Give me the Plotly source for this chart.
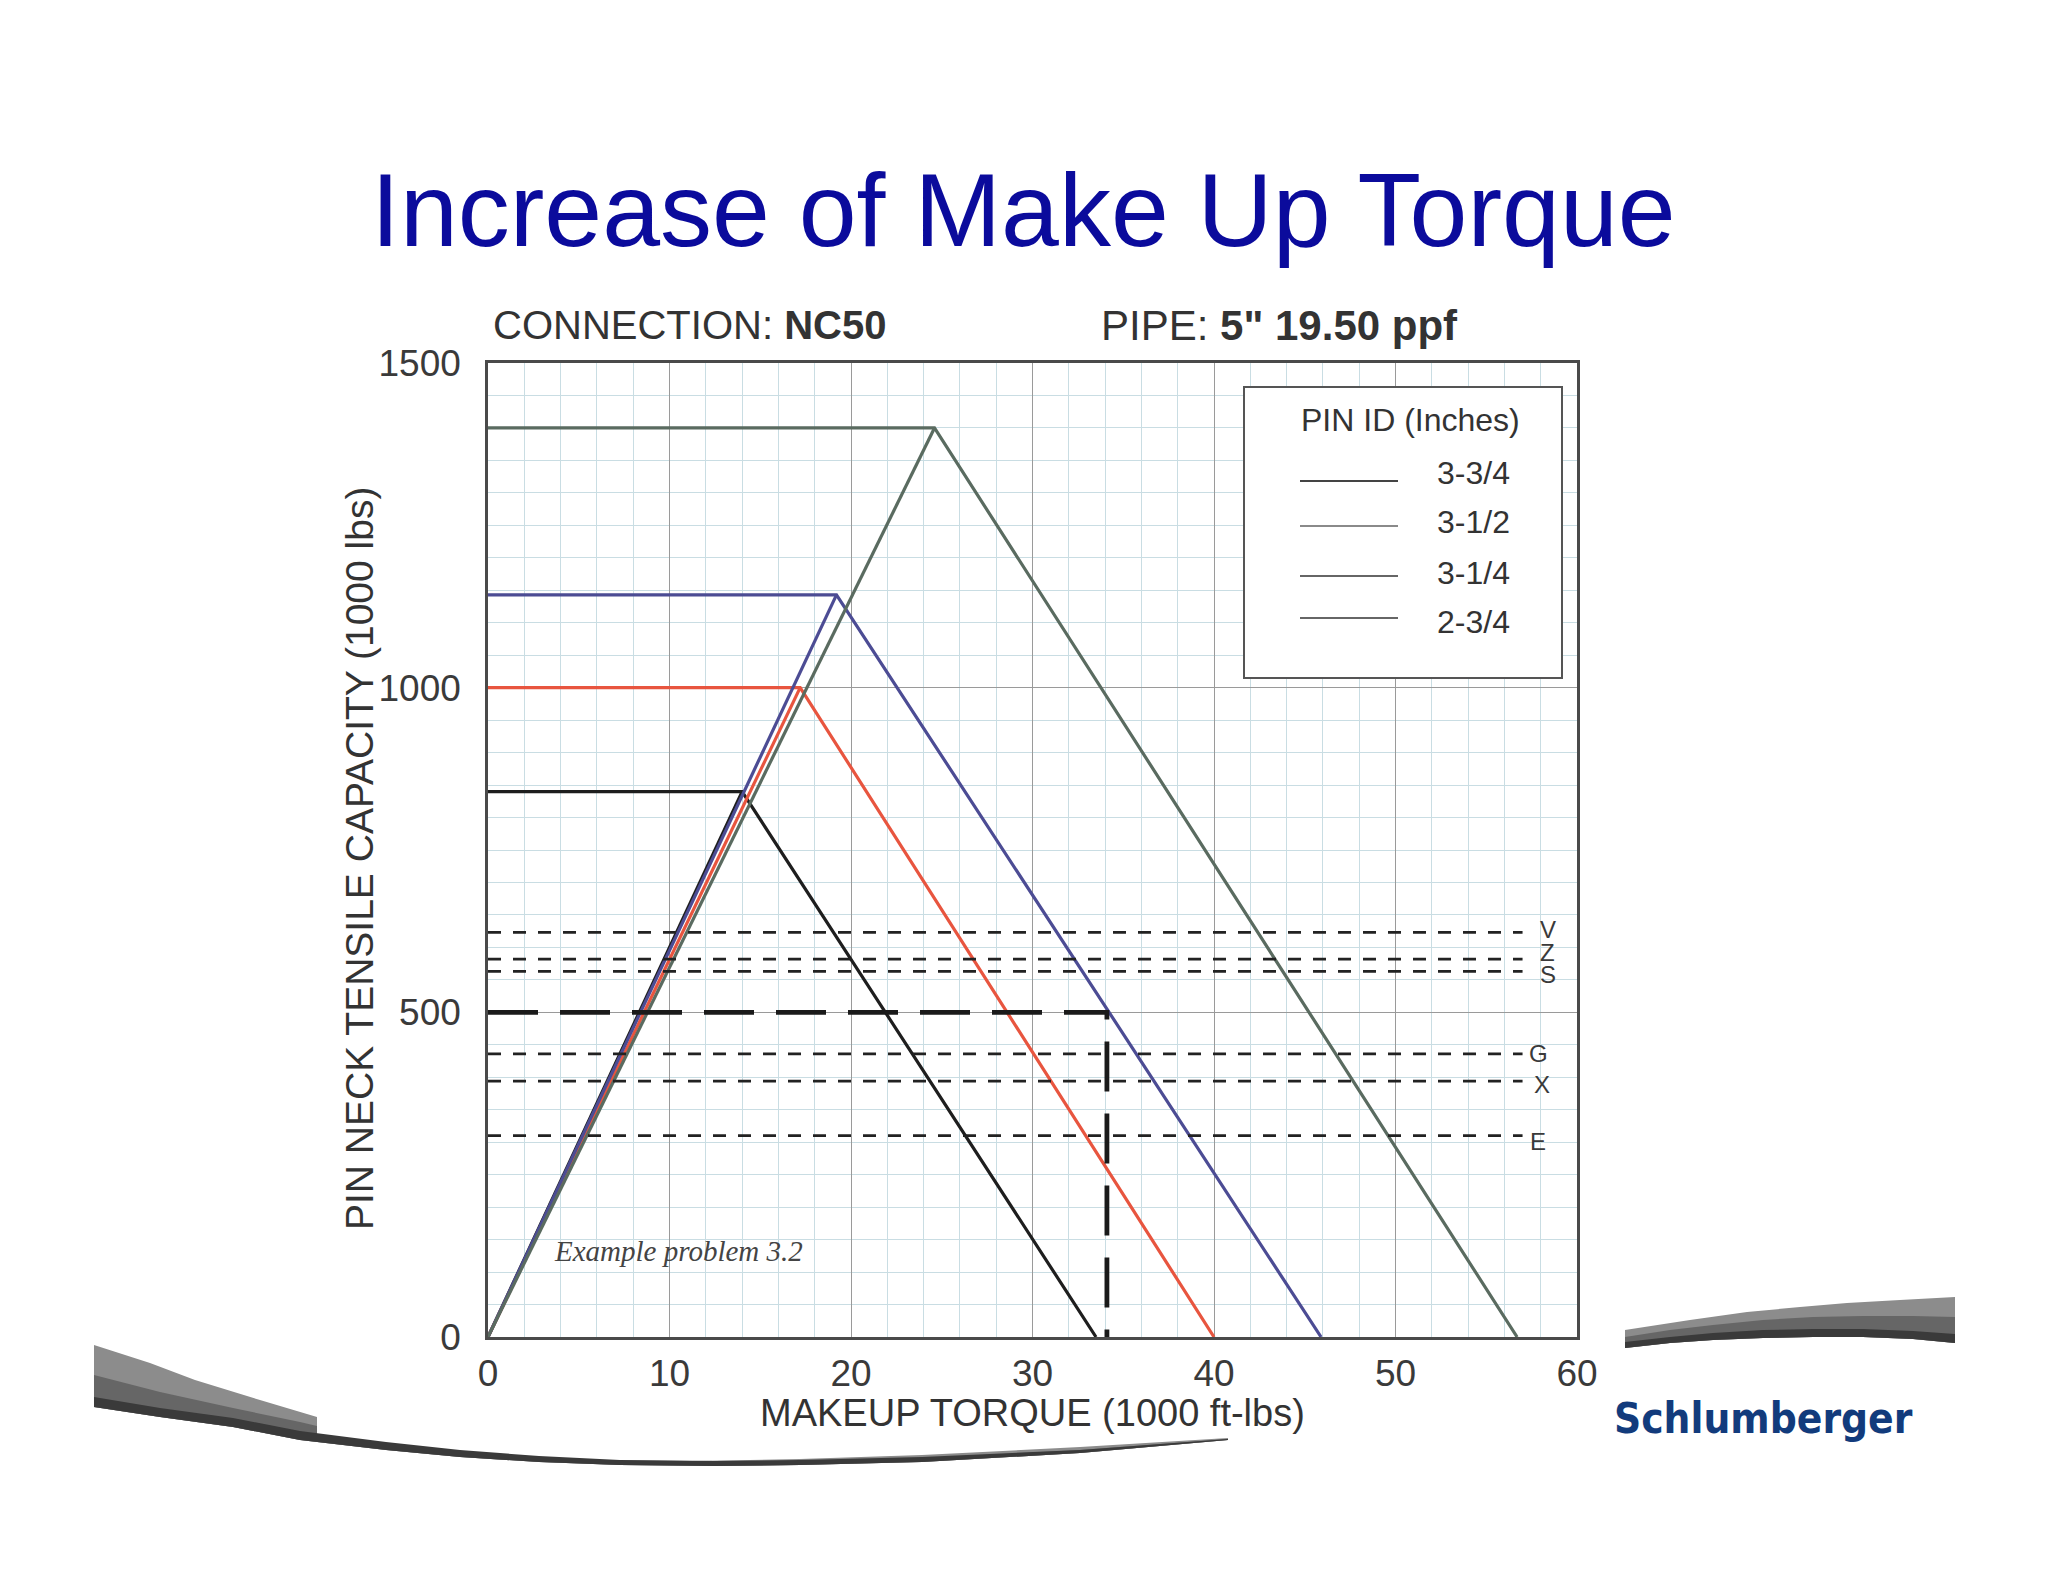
import plotly.graph_objects as go

# ---------------- data ----------------
pin_ids = ["3-3/4", "3-1/2", "3-1/4", "2-3/4"]
max_tensile = [840, 1000, 1143, 1400]        # 1000 lbs (flat part)
peak_torque = [14.0, 17.2, 19.2, 24.6]       # 1000 ft-lbs at peak
zero_torque = [33.5, 40.0, 45.9, 56.7]       # 1000 ft-lbs where capacity reaches 0
line_colors = ["#1e1e1e", "#e8553f", "#4c4c94", "#5a6b60"]

grade_names = ["V", "Z", "S", "G", "X", "E"]
grade_tensile = [623, 582, 563, 436, 394, 310]
grade_line_end = 57.0
grade_label_dy = [3, 7, -3, 0, -3, -6]
grade_label_dx = [15, 15, 15, 4, 9, 5]

example_tensile = 500
example_torque = 34.1

x_ticks = [0, 10, 20, 30, 40, 50, 60]
y_ticks = [0, 500, 1000, 1500]

# ---------------- layout helpers (pixel -> paper) ----------------
W, H = 2048, 1582
PL, PR, PT, PB = 488, 1577, 363, 1337


def xp(px):
    return (px - PL) / (PR - PL)


def yp(py):
    return (PB - py) / (PB - PT)


FONT = "Liberation Sans, Arial, sans-serif"
TXT = "#333333"

fig = go.Figure()

for name, L, pk, zt, c in zip(pin_ids, max_tensile, peak_torque, zero_torque, line_colors):
    fig.add_trace(go.Scatter(
        x=[0, pk, zt, None, 0, pk],
        y=[L, L, 0, None, 0, L],
        mode="lines", name=name, line=dict(color=c, width=3.2),
        showlegend=False, hoverinfo="skip"))

for g, v in zip(grade_names, grade_tensile):
    fig.add_trace(go.Scatter(
        x=[0, grade_line_end], y=[v, v], mode="lines", name=g,
        line=dict(color="#222222", width=2.8, dash="13px,12px"),
        showlegend=False, hoverinfo="skip"))

fig.add_trace(go.Scatter(
    x=[0, example_torque, example_torque],
    y=[example_tensile, example_tensile, 0],
    mode="lines", name="Example 3.2",
    line=dict(color="#1a1a1a", width=4.8, dash="50px,22px"),
    showlegend=False, hoverinfo="skip"))

annotations = []
for g, v, dy, dx in zip(grade_names, grade_tensile, grade_label_dy, grade_label_dx):
    annotations.append(dict(x=grade_line_end, y=v, xref="x", yref="y", text=g,
                            showarrow=False, xanchor="left", yanchor="middle",
                            xshift=dx, yshift=dy,
                            font=dict(family=FONT, size=24, color="#3a3a3a")))

# title
annotations.append(dict(x=xp(1023), y=yp(210), xref="paper", yref="paper",
                        text="Increase of Make Up Torque", showarrow=False,
                        xanchor="center", yanchor="middle",
                        font=dict(family=FONT, size=104, color="#0b0b9c")))
# header
annotations.append(dict(x=xp(491), y=yp(325), xref="paper", yref="paper",
                        text="CONNECTION: <b>NC50</b>", showarrow=False,
                        xanchor="left", yanchor="middle",
                        font=dict(family=FONT, size=40, color=TXT)))
annotations.append(dict(x=xp(1099), y=yp(325), xref="paper", yref="paper",
                        text="PIPE: <b>5\" 19.50 ppf</b>", showarrow=False,
                        xanchor="left", yanchor="middle",
                        font=dict(family=FONT, size=42, color=TXT)))
# axis titles
annotations.append(dict(x=xp(1032), y=yp(1413), xref="paper", yref="paper",
                        text="MAKEUP TORQUE (1000 ft-lbs)", showarrow=False,
                        xanchor="center", yanchor="middle",
                        font=dict(family=FONT, size=38, color=TXT)))
annotations.append(dict(x=xp(359), y=yp(859), xref="paper", yref="paper",
                        text="PIN NECK TENSILE CAPACITY (1000 lbs)", showarrow=False,
                        textangle=-90, xanchor="center", yanchor="middle",
                        font=dict(family=FONT, size=39, color=TXT)))
# example text
annotations.append(dict(x=xp(552), y=yp(1251), xref="paper", yref="paper",
                        text="<i>Example problem 3.2</i>", showarrow=False,
                        xanchor="left", yanchor="middle",
                        font=dict(family="Liberation Serif, Times New Roman, serif",
                                  size=29, color="#444444")))

# legend (drawn box)
shapes = []
shapes.append(dict(type="rect", xref="paper", yref="paper",
                   x0=xp(1244), x1=xp(1562), y0=yp(387), y1=yp(678),
                   fillcolor="white", line=dict(color="#555555", width=2), layer="above"))
annotations.append(dict(x=xp(1410), y=yp(420), xref="paper", yref="paper",
                        text="PIN ID (Inches)", showarrow=False,
                        xanchor="center", yanchor="middle",
                        font=dict(family=FONT, size=32, color=TXT)))
leg_line_y = [481, 526, 576, 618]
leg_text_y = [473, 522, 573, 622]
leg_line_col = ["#444444", "#8a8a8a", "#666666", "#666666"]
for name, ly, ty, lc in zip(pin_ids, leg_line_y, leg_text_y, leg_line_col):
    shapes.append(dict(type="line", xref="paper", yref="paper",
                       x0=xp(1300), x1=xp(1398), y0=yp(ly), y1=yp(ly),
                       line=dict(color=lc, width=1.8), layer="above"))
    annotations.append(dict(x=xp(1435), y=yp(ty), xref="paper", yref="paper",
                            text=name, showarrow=False, xanchor="left", yanchor="middle",
                            font=dict(family=FONT, size=32, color=TXT)))


# swooshes
def poly(points):
    s = "M " + " L ".join(f"{xp(a):.5f},{yp(b):.5f}" for a, b in points) + " Z"
    return s


left_swoosh = [(94, 1345), (150, 1363), (195, 1380), (260, 1400), (317, 1417), (317, 1437),
               (410, 1449), (508, 1457), (600, 1460), (692, 1461), (800, 1459), (922, 1455),
               (1080, 1447), (1228, 1438),
               (1228, 1440), (1080, 1453), (922, 1462), (800, 1465), (715, 1466), (620, 1465),
               (539, 1462), (460, 1457), (386, 1450), (300, 1440), (233, 1427), (160, 1417),
               (94, 1407)]
left_mid = [(94, 1375), (160, 1392), (233, 1408), (300, 1422), (317, 1426), (317, 1437),
            (386, 1446), (460, 1453), (539, 1458), (620, 1461), (715, 1462), (800, 1461),
            (922, 1458), (1080, 1450), (1228, 1439),
            (1228, 1440), (1080, 1453), (922, 1462), (800, 1465), (715, 1466), (620, 1465),
            (539, 1462), (460, 1457), (386, 1450), (300, 1440), (233, 1427), (160, 1417),
            (94, 1407)]
left_dark = [(94, 1397), (160, 1408), (233, 1418), (300, 1431), (386, 1442), (460, 1450),
             (539, 1456), (620, 1460), (715, 1461), (800, 1460), (922, 1457), (1080, 1450),
             (1228, 1439),
             (1228, 1440), (1080, 1453), (922, 1462), (800, 1465), (715, 1466), (620, 1465),
             (539, 1462), (460, 1457), (386, 1450), (300, 1440), (233, 1427), (160, 1417),
             (94, 1407)]
right_swoosh = [(1625, 1330), (1690, 1320), (1747, 1312), (1800, 1307), (1847, 1303),
                (1900, 1300), (1955, 1297), (1955, 1343), (1913, 1339), (1863, 1337),
                (1813, 1337), (1763, 1338), (1713, 1340), (1670, 1343), (1625, 1348)]
right_mid = [(1625, 1337), (1670, 1330), (1713, 1325), (1763, 1320), (1813, 1317),
             (1863, 1316), (1913, 1316), (1955, 1317), (1955, 1343), (1913, 1339),
             (1863, 1337), (1813, 1337), (1763, 1338), (1713, 1340), (1670, 1343),
             (1625, 1348)]
right_dark = [(1625, 1342), (1670, 1337), (1713, 1333), (1763, 1330), (1813, 1329),
              (1863, 1329), (1913, 1331), (1955, 1334), (1955, 1343), (1913, 1339),
              (1863, 1337), (1813, 1337), (1763, 1338), (1713, 1340), (1670, 1343),
              (1625, 1348)]
for pts, col in [(left_swoosh, "#8c8c8c"), (left_mid, "#666666"), (left_dark, "#3a3a3a"),
                 (right_swoosh, "#8c8c8c"), (right_mid, "#666666"), (right_dark, "#3a3a3a")]:
    shapes.append(dict(type="path", xref="paper", yref="paper", path=poly(pts),
                       fillcolor=col, line=dict(width=0), layer="below"))

# logo text
annotations.append(dict(x=xp(1612), y=yp(1418), xref="paper", yref="paper",
                        text="<b>Schlumberger</b>", showarrow=False,
                        xanchor="left", yanchor="middle",
                        font=dict(family="DejaVu Sans Condensed, Liberation Sans Narrow, sans-serif",
                                  size=42, color="#123b7c")))

fig.update_layout(
    width=W, height=H,
    margin=dict(l=PL, r=W - PR, t=PT, b=H - PB, pad=0),
    paper_bgcolor="white", plot_bgcolor="white",
    showlegend=False,
    annotations=annotations, shapes=shapes,
    xaxis=dict(range=[0, 60], tickvals=x_ticks, ticktext=[str(v) for v in x_ticks],
               showgrid=True, gridcolor="#9a9a9a", gridwidth=1.2,
               minor=dict(dtick=2, showgrid=True, gridcolor="#c9dde3", gridwidth=1),
               showline=True, linecolor="#4a4a4a", linewidth=2.5, mirror=True,
               zeroline=False, ticks="", ticklabelstandoff=2,
               tickfont=dict(family=FONT, size=37, color="#3a3a3a")),
    yaxis=dict(range=[0, 1500], tickvals=y_ticks, ticktext=[str(v) for v in y_ticks],
               showgrid=True, gridcolor="#9a9a9a", gridwidth=1.2,
               minor=dict(dtick=50, showgrid=True, gridcolor="#c9dde3", gridwidth=1),
               showline=True, linecolor="#4a4a4a", linewidth=2.5, mirror=True,
               zeroline=False, ticks="", ticklabelstandoff=17,
               tickfont=dict(family=FONT, size=37, color="#3a3a3a")),
)

fig.write_html("out.html")
